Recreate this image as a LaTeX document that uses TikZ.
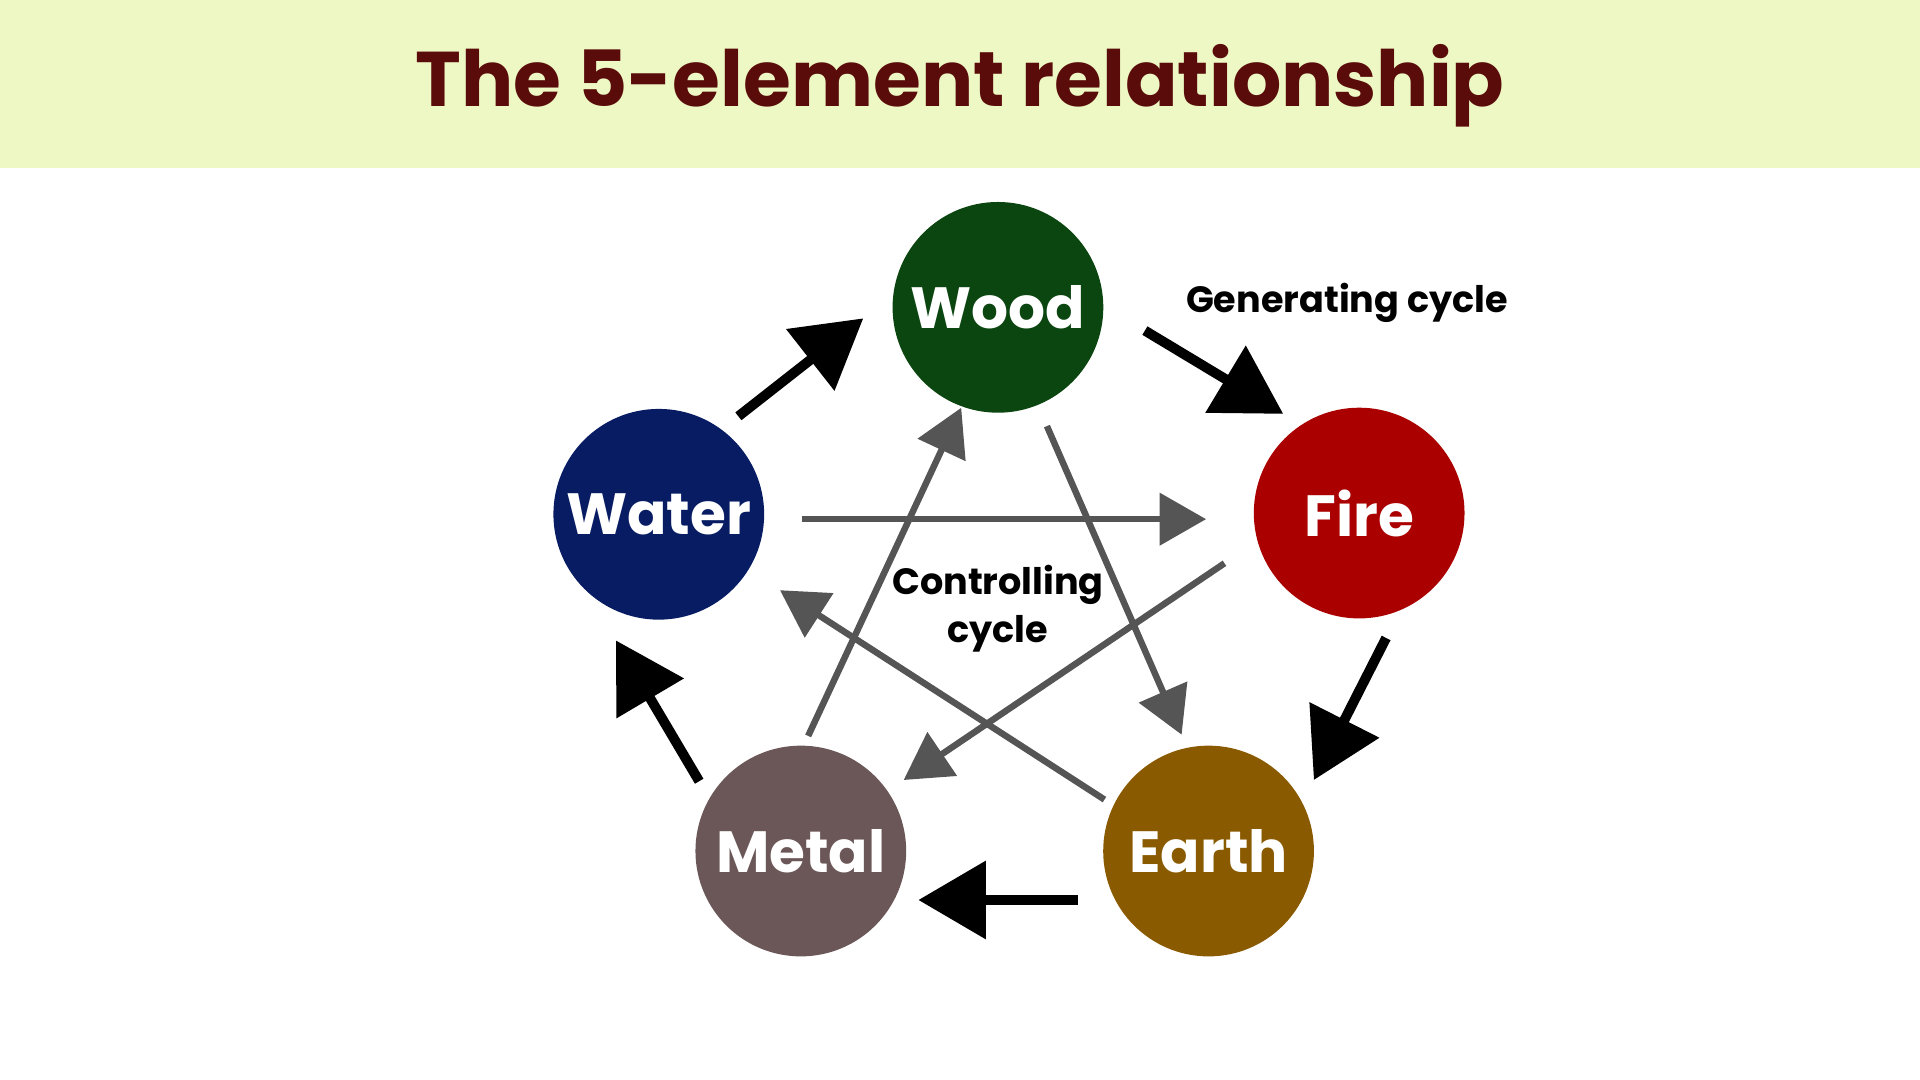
\documentclass[tikz,border=0pt]{standalone}
\usepackage{fontspec}
\setmainfont{Poppins}
\usetikzlibrary{arrows.meta}
\definecolor{band}{HTML}{EEF8C4}
\definecolor{titlec}{HTML}{5A0C0A}
\definecolor{woodc}{HTML}{0B4510}
\definecolor{firec}{HTML}{AA0000}
\definecolor{earthc}{HTML}{8A5A00}
\definecolor{metalc}{HTML}{6B5757}
\definecolor{waterc}{HTML}{071C63}
\definecolor{grayc}{HTML}{555555}
\begin{document}
\begin{tikzpicture}[x=0.01cm,y=-0.01cm,
  elem/.style={circle,minimum size=1.72cm,inner sep=0pt,text=white,font=\fontsize{13.5}{14}\selectfont\bfseries},
  gen/.style={line width=2.3pt,black,-{Triangle[length=0.55cm,width=0.62cm]}},
  ctl/.style={line width=1.5pt,grayc,-{Triangle[length=0.38cm,width=0.42cm]}},
  lbl/.style={font=\fontsize{8.5}{11}\selectfont\bfseries,align=center}]
\useasboundingbox (0,0) rectangle (1568,882);
\fill[band] (0,0) rectangle (1568,137);
\node[text=titlec,font=\fontsize{18}{20}\selectfont\bfseries] (title) at (784,70) {The 5-element relationship};
\node[elem,fill=woodc] (wood) at (815,251) {Wood};
\node[elem,fill=firec] (fire) at (1110,419) {Fire};
\node[elem,fill=earthc] (earth) at (987,695) {Earth};
\node[elem,fill=metalc] (metal) at (654,695) {Metal};
\node[elem,fill=waterc] (water) at (538,420) {Water};
\node[lbl] (genl) at (1100,247) {Generating cycle};
\node[lbl] (ctll) at (815,497) {Controlling\\cycle};
% generating
\coordinate (g1a) at (603,340); \coordinate (g1b) at (705,260);
\coordinate (g2a) at (935,270); \coordinate (g2b) at (1048,338);
\coordinate (g3a) at (1132,521); \coordinate (g3b) at (1073,637);
\coordinate (g4a) at (880,735); \coordinate (g4b) at (750,735);
\coordinate (g5a) at (571,638); \coordinate (g5b) at (503,523);
\draw[gen] (g1a) -- (g1b);
\draw[gen] (g2a) -- (g2b);
\draw[gen] (g3a) -- (g3b);
\draw[gen] (g4a) -- (g4b);
\draw[gen] (g5a) -- (g5b);
% controlling
\coordinate (c1a) at (655,424); \coordinate (c1b) at (985,424);
\coordinate (c2a) at (1000,460); \coordinate (c2b) at (738,637);
\coordinate (c3a) at (660,601); \coordinate (c3b) at (785,333);
\coordinate (c4a) at (855,348); \coordinate (c4b) at (965,600);
\coordinate (c5a) at (902,653); \coordinate (c5b) at (637,482);
\draw[ctl] (c1a) -- (c1b);
\draw[ctl] (c2a) -- (c2b);
\draw[ctl] (c3a) -- (c3b);
\draw[ctl] (c4a) -- (c4b);
\draw[ctl] (c5a) -- (c5b);
\end{tikzpicture}
\end{document}
